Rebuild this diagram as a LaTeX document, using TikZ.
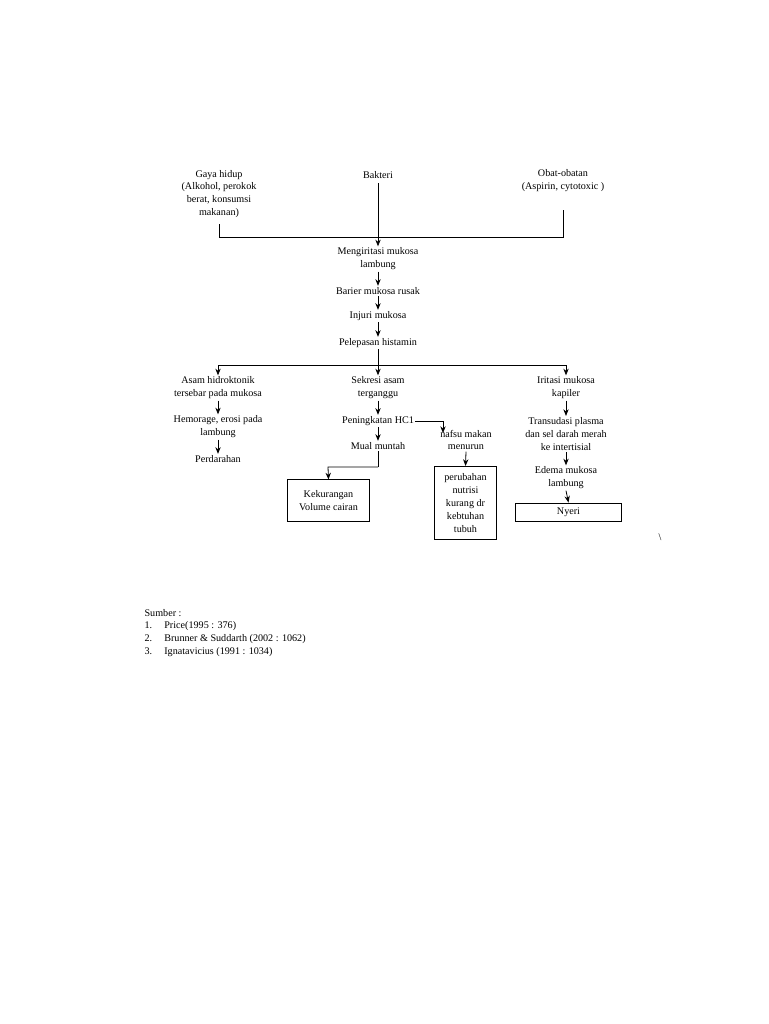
\documentclass[tikz,border=0pt]{standalone}
\usepackage{fontspec}
\setmainfont{Liberation Serif}
\usetikzlibrary{arrows.meta}
\begin{document}
\begin{tikzpicture}[x=0.75pt,y=-0.75pt,
  every node/.style={font=\fontsize{7.6}{9.7}\selectfont,align=center,inner sep=1pt},
  arr/.style={-{Stealth[length=5pt,width=4pt]},line width=0.6pt},
  ln/.style={line width=0.6pt},
  bx/.style={draw,line width=0.6pt}]
\useasboundingbox (0,0) rectangle (768,1024);
\node (gaya) at (219,194) {Gaya hidup\\(Alkohol, perokok\\berat, konsumsi\\makanan)};
\node (bak) at (378,175) {Bakteri};
\node (obat) at (563,181) {Obat-obatan\\(Aspirin, cytotoxic )};
\coordinate (gl) at (219,224); \coordinate (gb) at (219,237);
\coordinate (ol) at (563,210); \coordinate (ob) at (563,237);
\draw[ln] (gl) -- (gb) -- (ob) -- (ol);
\node (m1) at (378,259) {Mengiritasi mukosa\\lambung};
\coordinate (bt) at (378,183);
\draw[arr] (bt) -- (m1.north);
\node (m2) at (378,291) {Barier mukosa rusak};
\node (m3) at (378,316) {Injuri mukosa};
\node (m4) at (378,343) {Pelepasan histamin};
\draw[arr] (m1.south) -- (m2.north);
\draw[arr] (m2.south) -- (m3.north);
\draw[arr] (m3.south) -- (m4.north);
\coordinate (h) at (378,365); \coordinate (hl) at (218,365); \coordinate (hr) at (566,365);
\node (l1) at (218,388) {Asam hidroktonik\\tersebar pada mukosa};
\node (c1) at (378,388) {Sekresi asam\\terganggu};
\node (r1) at (566,388) {Iritasi mukosa\\kapiler};
\draw[ln] (m4.south) -- (h);
\draw[ln] (hl) -- (hr);
\draw[arr] (hl) -- (l1.north);
\draw[arr] (h) -- (c1.north);
\draw[arr] (hr) -- (r1.north);
\node (l2) at (218,427) {Hemorage, erosi pada\\lambung};
\node (l3) at (218,459) {Perdarahan};
\draw[arr] (l1.south) -- (l2.north);
\draw[arr] (l2.south) -- (l3.north);
\node (c2) at (378,421) {Peningkatan HC1};
\node (c3) at (378,446) {Mual muntah};
\draw[arr] (c1.south) -- (c2.north);
\draw[arr] (c2.south) -- (c3.north);
\node (n1) at (466,440) {nafsu makan\\menurun};
\coordinate (p1) at (443,421); \coordinate (p2) at (443,433);
\draw[arr] (c2.east) -- (p1) -- (p2);
\node[bx,minimum width=47pt,minimum height=55pt] (n2) at (465.5,503) {perubahan\\nutrisi\\kurang dr\\kebtuhan\\tubuh};
\draw[arr] (n1.south) -- (n2.north);
\node[bx,minimum width=61pt,minimum height=31pt] (k) at (328.5,500.5) {Kekurangan\\Volume cairan};
\coordinate (q1) at (378,467); \coordinate (q2) at (328,467);
\draw[ln] (c3.south) -- (q1);
\draw[arr] (q1) -- (q2) -- (k.north);
\node (r2) at (566,434) {Transudasi plasma\\dan sel darah merah\\ke intertisial};
\node (r3) at (566,478) {Edema mukosa\\lambung};
\node[bx,minimum width=80pt,minimum height=13.5pt] (ny) at (568.5,512) {Nyeri};
\draw[arr] (r1.south) -- (r2.north);
\draw[arr] (r2.south) -- (r3.north);
\draw[arr] (r3.south) -- (ny.north);
\node (bs) at (660,537) {\textbackslash};
\node[anchor=west,align=left] (src) at (143,633) {Sumber :\\1.\hspace{1.2em}Price(1995 : 376)\\2.\hspace{1.2em}Brunner \& Suddarth (2002 : 1062)\\3.\hspace{1.2em}Ignatavicius (1991 : 1034)};
\end{tikzpicture}
\end{document}
